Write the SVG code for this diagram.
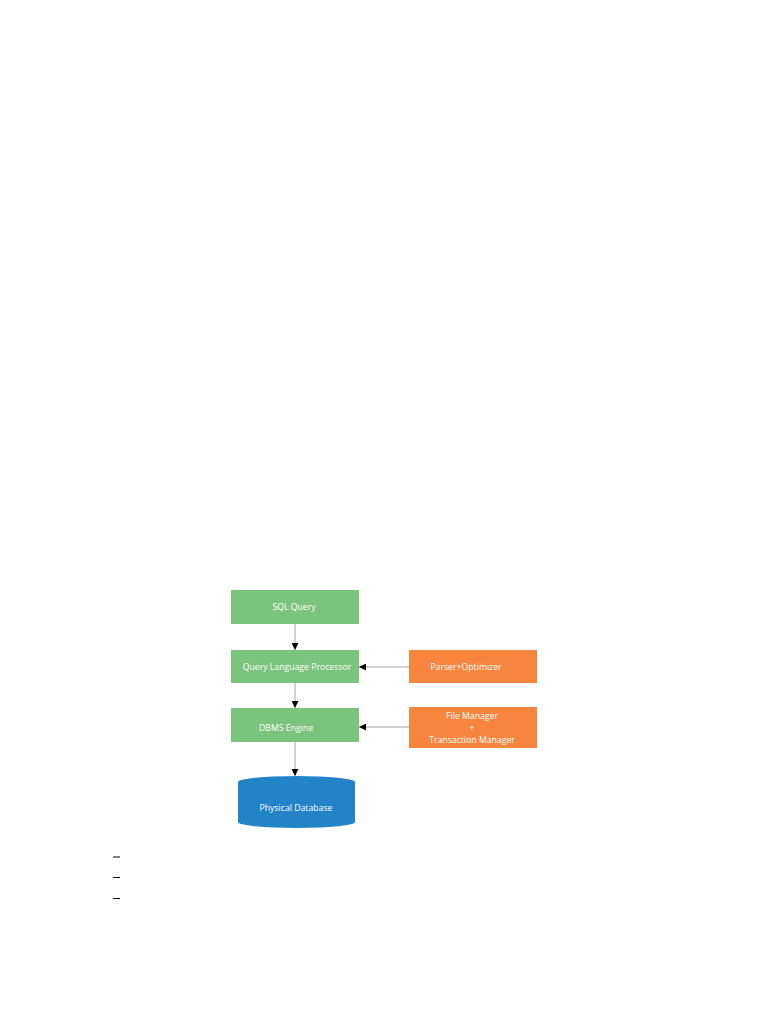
<svg xmlns="http://www.w3.org/2000/svg" width="768" height="1024" viewBox="0 0 768 1024">
<style>
.g{fill:#7bc47d}
.o{fill:#f5853f}
.t{font-family:"Open Sans","Noto Sans",sans-serif;font-size:8.7px;fill:#ffffff;text-anchor:middle}
.c{stroke:#8a8a8a;stroke-width:0.8;fill:none}
.d{stroke:#000;stroke-width:1}
</style>
<defs>
<marker id="ah" viewBox="0 0 10 10" refX="10" refY="5" markerWidth="7" markerHeight="7" markerUnits="userSpaceOnUse" orient="auto">
<path d="M0,0 L10,5 L0,10 Z" fill="#000"/>
</marker>
</defs>
<rect width="768" height="1024" fill="#fff"/>
<g id="sql"><rect class="g" x="231" y="590" width="128" height="34"/><text class="t" x="294" y="610">SQL Query</text></g>
<g id="qlp"><rect class="g" x="231" y="650" width="128" height="33"/><text class="t" x="297" y="670">Query Language Processor</text></g>
<g id="parser"><rect class="o" x="409" y="650" width="128" height="33"/><text class="t" x="466" y="670">Parser+Optimizer</text></g>
<g id="dbms"><rect class="g" x="231" y="708" width="128" height="34"/><text class="t" x="286" y="731">DBMS Engine</text></g>
<g id="fm"><rect class="o" x="409" y="707" width="128" height="41"/><text class="t" x="472" y="719">File Manager</text><text class="t" x="472" y="731">+</text><text class="t" x="472" y="743">Transaction Manager</text></g>
<g id="db"><path d="M238,782 A58.5,6 0 0 1 355,782 L355,822 A58.5,6 0 0 1 238,822 Z" fill="#2283c7"/><text class="t" x="296" y="811">Physical Database</text></g>
<g id="connectors">
<line class="c" x1="295" y1="624" x2="295" y2="650" marker-end="url(#ah)"/>
<line class="c" x1="295" y1="683" x2="295" y2="708" marker-end="url(#ah)"/>
<line class="c" x1="295" y1="742" x2="295" y2="776" marker-end="url(#ah)"/>
<line class="c" x1="409" y1="667" x2="359" y2="667" marker-end="url(#ah)"/>
<line class="c" x1="409" y1="727" x2="359" y2="727" marker-end="url(#ah)"/>
</g>
<line class="d" x1="113" y1="857" x2="120" y2="857"/>
<line class="d" x1="113" y1="877.5" x2="120" y2="877.5"/>
<line class="d" x1="113" y1="898.5" x2="120" y2="898.5"/>
</svg>
